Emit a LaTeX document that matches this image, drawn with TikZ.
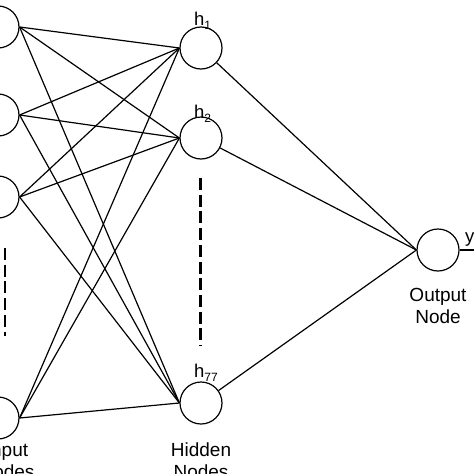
\documentclass[tikz,border=0pt]{standalone}
\usepackage{fontspec}
\setmainfont{Liberation Sans}
\usetikzlibrary{positioning}

\newcommand{\hsub}[1]{\raisebox{-4.5pt}{\fontsize{12}{12}\selectfont #1}}

\begin{document}
\begin{tikzpicture}[
    x=1pt, y=-1pt,
    neuron/.style={circle, draw, line width=1.2pt, minimum size=42pt, inner sep=0pt},
    link/.style={line width=1.2pt},
    dots/.style={dash pattern=on 12pt off 4.7pt},
    tag/.style={anchor=base west, inner sep=0pt, font=\fontsize{18.5}{18.5}\selectfont},
    caption/.style={anchor=north, align=center, inner sep=0pt, font=\fontsize{19}{22}\selectfont}
]
    \useasboundingbox (0,0) rectangle (474,474);

    % input layer
    \node[neuron] (in1) at (-2,27) {};
    \node[neuron] (in2) at (-2,115) {};
    \node[neuron] (in3) at (-2,197) {};
    \node[neuron] (in4) at (-2,418) {};

    % hidden layer
    \node[neuron] (h1) at (201,48) {};
    \node[neuron] (h2) at (201,138) {};
    \node[neuron] (h77) at (201,403) {};

    % output layer
    \node[neuron] (out) at (438,250) {};
    \coordinate (yend) at (474,250);

    % labels
    \node[tag] (lh1) at (194,25) {h\hsub{1}};
    \node[tag] (lh2) at (194,118) {h\hsub{2}};
    \node[tag] (lh77) at (194,377) {h\hsub{77}};
    \node[tag] (ly) at (465,242) {y};
    \node[caption] (cin) at (7,443) {Input\\Nodes};
    \node[caption] (chid) at (201,443) {Hidden\\Nodes};
    \node[caption] (cout) at (438,288) {Output\\Node};

    % dashed gaps
    \coordinate (gi1) at (5,248);
    \coordinate (gi2) at (5,336);
    \coordinate (gh1) at (200,178);
    \coordinate (gh2) at (200,346);
    \draw[dots, line width=2pt] (gi1) -- (gi2);
    \draw[dots, line width=3pt] (gh1) -- (gh2);

    % input to hidden
    \draw[link] (in1.east) -- (h1.west);
    \draw[link] (in1.east) -- (h2.west);
    \draw[link] (in1.east) -- (h77.west);
    \draw[link] (in2.east) -- (h1.west);
    \draw[link] (in2.east) -- (h2.west);
    \draw[link] (in2.east) -- (h77.west);
    \draw[link] (in3.east) -- (h1.west);
    \draw[link] (in3.east) -- (h2.west);
    \draw[link] (in3.east) -- (h77.west);
    \draw[link] (in4.east) -- (h1.west);
    \draw[link] (in4.east) -- (h2.west);
    \draw[link] (in4.east) -- (h77.west);

    % hidden to output
    \draw[link] (h1) -- (out.west);
    \draw[link] (h2) -- (out.west);
    \draw[link] (h77) -- (out.west);
    \draw[link] (out.east) -- (yend);
\end{tikzpicture}
\end{document}
